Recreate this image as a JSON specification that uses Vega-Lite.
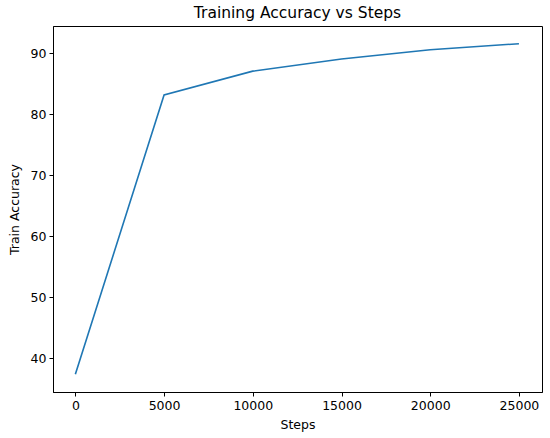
{
  "$schema": "https://vega.github.io/schema/vega-lite/v6.json",
  "autosize": "none",
  "width": 489,
  "height": 366,
  "padding": {"left": 53, "top": 26, "right": 8, "bottom": 46},
  "background": "white",
  "title": {"text": "Training Accuracy vs Steps", "font": "DejaVu Sans", "fontSize": 15.5, "fontWeight": "normal", "color": "black", "offset": 5},
  "config": {
    "view": {"stroke": "black", "strokeWidth": 1},
    "axis": {
      "labelFont": "DejaVu Sans", "labelFontSize": 12.5, "labelColor": "black",
      "titleFont": "DejaVu Sans", "titleFontSize": 12.5, "titleFontWeight": "normal", "titleColor": "black",
      "domainColor": "black", "tickColor": "black", "tickSize": 4, "labelPadding": 3, "grid": false
    }
  },
  "data": {"values": [
    {"steps": 0, "acc": 37.4},
    {"steps": 5000, "acc": 83.2},
    {"steps": 10000, "acc": 87.1},
    {"steps": 15000, "acc": 89.1},
    {"steps": 20000, "acc": 90.6},
    {"steps": 25000, "acc": 91.6}
  ]},
  "mark": {"type": "line", "color": "#1f77b4", "strokeWidth": 1.6, "clip": true},
  "encoding": {
    "x": {"field": "steps", "type": "quantitative", "title": "Steps",
      "scale": {"domain": [-1260, 26300], "nice": false, "zero": false},
      "axis": {"values": [0, 5000, 10000, 15000, 20000, 25000], "format": "d", "titlePadding": 7}},
    "y": {"field": "acc", "type": "quantitative", "title": "Train Accuracy",
      "scale": {"domain": [34.5, 94.5], "nice": false, "zero": false},
      "axis": {"values": [40, 50, 60, 70, 80, 90], "titlePadding": 9}}
  }
}
